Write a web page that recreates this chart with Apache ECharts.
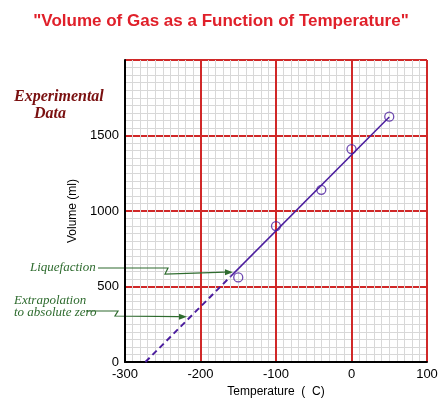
<!DOCTYPE html><html><head><meta charset="utf-8"><script src="https://cdn.jsdelivr.net/npm/echarts@6/dist/echarts.min.js"></script>
<style>body{margin:0;background:#fff}#c{width:442px;height:409px}</style></head><body><div id="c"></div><script>
var temps=[-150,-100,-40,0,50];
var volumes=[560,900,1140,1410,1625];
var fitSolid=[[-160,567],[50,1622]];
var fitDashed=[[-273,0],[-160,567]];
var xTicks=[-300,-200,-100,0,100];
var yTicks=[0,500,1000,1500];
var ch=echarts.init(document.getElementById('c'));
var purple='#4b1d9e';
ch.setOption({
 animation:false,
 title:{text:'"Volume of Gas as a Function of Temperature"',left:'center',top:8,textStyle:{color:'#e0202a',fontSize:17,fontWeight:'bold',fontFamily:'Liberation Sans Narrow, Arial Narrow, sans-serif'}},
 grid:{left:125,right:15,top:60,bottom:47},
 xAxis:{type:'value',min:-300,max:100,interval:100,name:'Temperature  (  C)',nameLocation:'middle',nameGap:20,
  nameTextStyle:{color:'#000',fontSize:12},
  axisLine:{show:true,onZero:false,lineStyle:{color:'#000',width:2}},axisTick:{show:false},
  axisLabel:{color:'#000',fontSize:13,margin:6},
  splitLine:{lineStyle:{color:'#d02828',width:2}},
  minorTick:{show:false,splitNumber:10},minorSplitLine:{show:true,lineStyle:{color:'#d8d8d8'}}},
 yAxis:{type:'value',min:0,max:2000,interval:500,name:'Volume (ml)',nameLocation:'middle',nameGap:35,nameRotate:90,
  nameTextStyle:{color:'#000',fontSize:12},
  axisLine:{show:true,onZero:false,lineStyle:{color:'#000',width:2}},axisTick:{show:false},
  axisLabel:{color:'#000',fontSize:13,margin:6,formatter:function(v){return v===2000?'':v;}},
  splitLine:{lineStyle:{color:'#d02828',width:2}},
  minorTick:{show:false,splitNumber:10},minorSplitLine:{show:true,lineStyle:{color:'#d8d8d8'}}},
 series:[
  {type:'line',data:fitSolid,symbol:'none',lineStyle:{color:purple,width:1.5},z:3},
  {type:'line',data:fitDashed,symbol:'none',lineStyle:{color:purple,width:2,type:[6,4]},z:3},
  {type:'scatter',data:temps.map(function(t,i){return [t,volumes[i]];}),symbol:'circle',symbolSize:9,
   itemStyle:{color:'rgba(255,255,255,0)',borderColor:purple,borderWidth:1.3},z:4}
 ]
});
var p1=ch.convertToPixel({gridIndex:0},[-157,595]);
var p2=ch.convertToPixel({gridIndex:0},[-218,300]);
var g='#2e6b2e';
ch.setOption({graphic:[
 {type:'text',left:14,top:88,style:{text:'Experimental\n     Data',fill:'#7a1010',font:'italic bold 16px "Liberation Serif", serif',lineHeight:17}},
 {type:'text',left:30,top:261,style:{text:'Liquefaction',fill:g,font:'italic 13px "Liberation Serif", serif'}},
 {type:'text',left:14,top:294,style:{text:'Extrapolation\nto absolute zero',fill:g,font:'italic 13px "Liberation Serif", serif',lineHeight:12,align:'left'}},
 {type:'polyline',shape:{points:[[98,268],[168,268],[165,274],[p1[0]-8,p1[1]]]},style:{stroke:g,fill:null,lineWidth:1.2}},
 {type:'polygon',shape:{points:[[p1[0],p1[1]],[p1[0]-8,p1[1]-3],[p1[0]-8,p1[1]+3]]},style:{fill:g}},
 {type:'polyline',shape:{points:[[86,311],[118,311],[115,316],[p2[0]-8,p2[1]]]},style:{stroke:g,fill:null,lineWidth:1.2}},
 {type:'polygon',shape:{points:[[p2[0],p2[1]],[p2[0]-8,p2[1]-3],[p2[0]-8,p2[1]+3]]},style:{fill:g}}
]});
</script></body></html>
